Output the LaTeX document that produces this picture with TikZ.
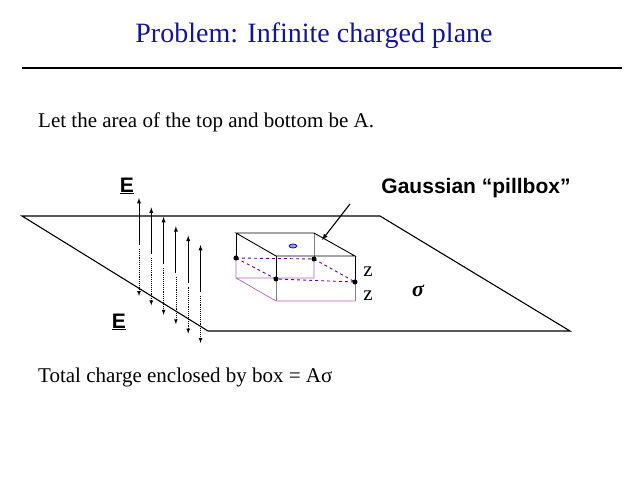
\documentclass[tikz,border=0pt]{standalone}
\usepackage{fontspec}
\setmainfont{Liberation Serif}
\setsansfont{Liberation Sans}
\usetikzlibrary{shapes.geometric}
\definecolor{ttl}{RGB}{20,20,150}
\tikzset{
 plain/.style={line width=1.1pt},
 boxe/.style={line width=0.9pt},
 hid/.style={line width=0.7pt, violet!60},
 dsh/.style={line width=0.9pt, violet!80!blue, dashed},
 fld/.style={line width=0.9pt,-latex},
 lbl/.style={font=\sffamily\bfseries\fontsize{21}{24}\selectfont, inner sep=0pt},
 dot/.style={circle, fill=black, inner sep=1.8pt},
 body/.style={font=\fontsize{21}{25}\selectfont, inner sep=0pt},
}
\begin{document}
\begin{tikzpicture}[x=1pt,y=-1pt]
\useasboundingbox (0,0) rectangle (638,478);
\node[text=ttl, font=\fontsize{28}{32}\selectfont] (title) at (314,36) {Problem: Infinite charged plane};
\draw[line width=2pt] (22,68) -- (622,68);
\node[anchor=west, body] (t1) at (38,122) {Let the area of the top and bottom be A.};
\node[anchor=west, body] (t2) at (38,377) {Total charge enclosed by box = Aσ};
% plane
\draw[plain] (22,216) -- (380,216) -- (570,331) -- (208,331) -- cycle;
% field arrows
\foreach \i in {0,...,5}{
  \pgfmathsetmacro\xx{139+12.3*\i}
  \pgfmathsetmacro\yt{198+9.4*\i}
  \coordinate (a\i) at (\xx,\yt);
  \coordinate (m\i) at (\xx,\yt+47);
  \coordinate (n\i) at (\xx,\yt+51);
  \coordinate (b\i) at (\xx,\yt+98);
  \draw[fld] (m\i) -- (a\i);
  \draw[fld, densely dotted, line width=0.7pt] (n\i) -- (b\i);
}
\node[lbl] (E1) at (127,186) {\underline{E}};
\node[lbl] (E2) at (119,322) {\underline{E}};
% box
\coordinate (TBL) at (236,233); \coordinate (TBR) at (314,233);
\coordinate (TFR) at (355,256); \coordinate (TFL) at (276,256);
\coordinate (MBL) at (236,258); \coordinate (MBR) at (314,259);
\coordinate (MFR) at (355,282); \coordinate (MFL) at (276,279);
\coordinate (BBL) at (236,278); \coordinate (BBR) at (314,278);
\coordinate (BFR) at (355,301); \coordinate (BFL) at (276,301);
\draw[hid] (MBL) -- (BBL) -- (BFL) -- (BFR) (BBL) -- (BBR) (MBR) -- (BBR);
\draw[line width=0.5pt, gray] (TBR) -- (MBR) (MFL) -- (BFL) (MFR) -- (BFR);
\draw[boxe] (TFL) -- (TBL) -- (TBR) -- (TFR) -- cycle;
\draw[boxe] (TBL) -- (MBL) (TFL) -- (MFL) (TFR) -- (MFR);
\draw[dsh] (MBL) -- (MBR) -- (MFR) -- (MFL) -- cycle;
\foreach \p in {MBL,MBR,MFR,MFL} \node[dot] at (\p) {};
\node[ellipse, draw=blue!70!black, fill=blue!40, inner sep=0pt, minimum width=8pt, minimum height=4pt, line width=0.7pt] (q) at (293,246) {};
\node[lbl] (gp) at (476,188) {Gaussian “pillbox”};
\coordinate (gpe) at (322,240);
\draw[line width=1.1pt,-latex] (350,204) -- (gpe);
\node[body] (z1) at (368,272) {z};
\node[body] (z2) at (368,296) {z};
\node[font=\bfseries\itshape\fontsize{22}{24}\selectfont, inner sep=0pt] (sig) at (418,291) {σ};
\end{tikzpicture}
\end{document}
